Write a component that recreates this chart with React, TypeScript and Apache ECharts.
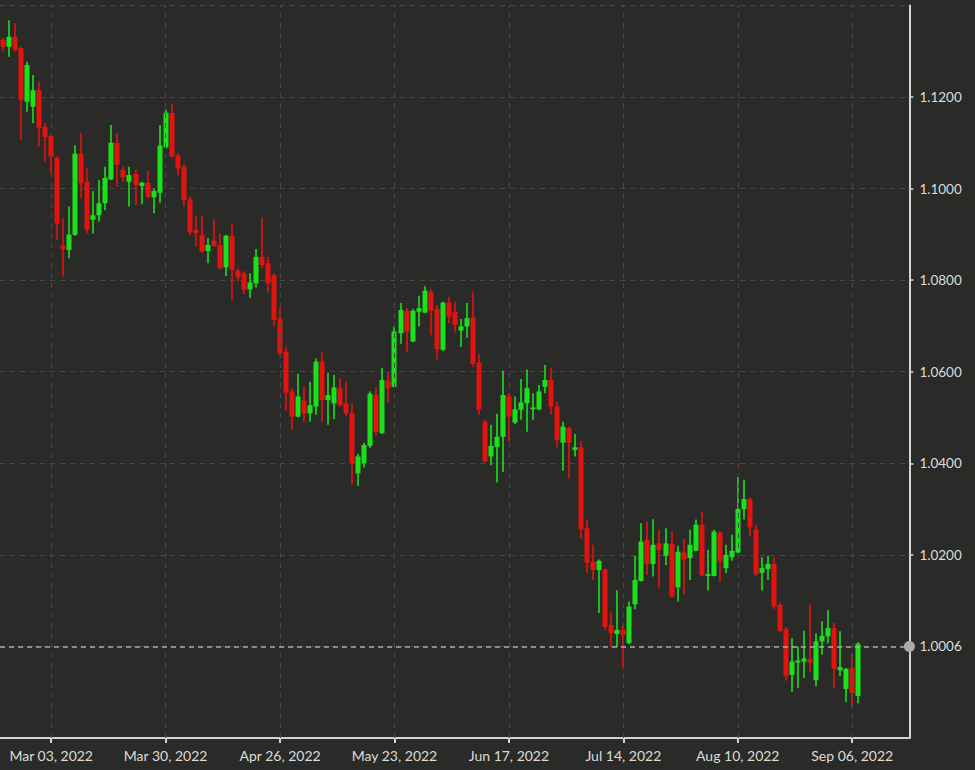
import React, { useEffect, useRef } from "react";
import * as echarts from "echarts";

// EUR/USD daily candles: [date, open, close, low, high]
const candles: [string, number, number, number, number][] = [
  ["2022-02-21", 1.1325, 1.131, 1.13, 1.133],
  ["2022-02-22", 1.131, 1.1332, 1.1288, 1.1368],
  ["2022-02-23", 1.1332, 1.1303, 1.13, 1.1361],
  ["2022-02-24", 1.1307, 1.1194, 1.1106, 1.131],
  ["2022-02-25", 1.119, 1.127, 1.1168, 1.1277],
  ["2022-02-28", 1.1179, 1.1215, 1.1143, 1.1248],
  ["2022-03-01", 1.1215, 1.1132, 1.1092, 1.1234],
  ["2022-03-02", 1.1135, 1.1113, 1.1059, 1.1144],
  ["2022-03-03", 1.1115, 1.107, 1.1033, 1.1117],
  ["2022-03-04", 1.1067, 1.0924, 1.0888, 1.107],
  ["2022-03-07", 1.0875, 1.0868, 1.0808, 1.0935],
  ["2022-03-08", 1.0866, 1.0899, 1.0848, 1.0961],
  ["2022-03-09", 1.0899, 1.1076, 1.0897, 1.1095],
  ["2022-03-10", 1.1076, 1.1012, 1.0979, 1.1122],
  ["2022-03-11", 1.1015, 1.091, 1.0902, 1.1044],
  ["2022-03-14", 1.0932, 1.0942, 1.0902, 1.0994],
  ["2022-03-15", 1.0942, 1.0968, 1.0928, 1.1019],
  ["2022-03-16", 1.0968, 1.1023, 1.0953, 1.1048],
  ["2022-03-17", 1.102, 1.11, 1.1019, 1.1139],
  ["2022-03-18", 1.11, 1.1052, 1.1004, 1.1121],
  ["2022-03-21", 1.1041, 1.1025, 1.1015, 1.1048],
  ["2022-03-22", 1.1015, 1.103, 1.0961, 1.1048],
  ["2022-03-23", 1.1032, 1.1008, 1.0964, 1.1041],
  ["2022-03-24", 1.1006, 1.1013, 1.0966, 1.1015],
  ["2022-03-25", 1.1013, 1.0982, 1.0979, 1.1039],
  ["2022-03-28", 1.0981, 1.0995, 1.0946, 1.1],
  ["2022-03-29", 1.0991, 1.1094, 1.0969, 1.1139],
  ["2022-03-30", 1.109, 1.1166, 1.1088, 1.1173],
  ["2022-03-31", 1.1165, 1.107, 1.1068, 1.1185],
  ["2022-04-01", 1.1073, 1.1044, 1.1028, 1.1077],
  ["2022-04-04", 1.1048, 1.0975, 1.0961, 1.1055],
  ["2022-04-05", 1.0977, 1.0906, 1.0899, 1.0982],
  ["2022-04-06", 1.091, 1.0903, 1.0873, 1.094],
  ["2022-04-07", 1.0899, 1.0862, 1.086, 1.094],
  ["2022-04-08", 1.0864, 1.0877, 1.0837, 1.0892],
  ["2022-04-11", 1.0886, 1.0875, 1.0873, 1.0933],
  ["2022-04-12", 1.0877, 1.0826, 1.0824, 1.0902],
  ["2022-04-13", 1.0828, 1.0897, 1.0809, 1.0899],
  ["2022-04-14", 1.0897, 1.0822, 1.0757, 1.0924],
  ["2022-04-15", 1.0821, 1.0806, 1.0797, 1.0826],
  ["2022-04-18", 1.0815, 1.0779, 1.077, 1.0819],
  ["2022-04-19", 1.078, 1.0795, 1.0761, 1.0815],
  ["2022-04-20", 1.0793, 1.0851, 1.0784, 1.0868],
  ["2022-04-21", 1.0851, 1.0833, 1.0826, 1.0937],
  ["2022-04-22", 1.0837, 1.0793, 1.0773, 1.0851],
  ["2022-04-25", 1.0811, 1.0713, 1.0699, 1.0814],
  ["2022-04-26", 1.0717, 1.064, 1.0634, 1.0739],
  ["2022-04-27", 1.0644, 1.0554, 1.0515, 1.0655],
  ["2022-04-28", 1.0557, 1.0502, 1.0473, 1.0564],
  ["2022-04-29", 1.0502, 1.0546, 1.05, 1.0595],
  ["2022-05-02", 1.0537, 1.0509, 1.0491, 1.0569],
  ["2022-05-03", 1.0509, 1.0527, 1.0491, 1.0578],
  ["2022-05-04", 1.0524, 1.0622, 1.0506, 1.0629],
  ["2022-05-05", 1.0622, 1.0538, 1.0491, 1.0642],
  ["2022-05-06", 1.0538, 1.0549, 1.0484, 1.0598],
  ["2022-05-09", 1.0531, 1.0566, 1.0496, 1.0593],
  ["2022-05-10", 1.0564, 1.0527, 1.0524, 1.0586],
  ["2022-05-11", 1.0531, 1.0509, 1.0502, 1.0578],
  ["2022-05-12", 1.0509, 1.04, 1.0353, 1.053],
  ["2022-05-13", 1.0378, 1.0415, 1.0351, 1.0421],
  ["2022-05-16", 1.04, 1.044, 1.0391, 1.0445],
  ["2022-05-17", 1.0438, 1.0552, 1.0433, 1.0557],
  ["2022-05-18", 1.0549, 1.0469, 1.046, 1.0566],
  ["2022-05-19", 1.0466, 1.0582, 1.0464, 1.0608],
  ["2022-05-20", 1.0581, 1.0564, 1.0533, 1.06],
  ["2022-05-23", 1.0567, 1.0688, 1.0566, 1.0699],
  ["2022-05-24", 1.0684, 1.0735, 1.0661, 1.075],
  ["2022-05-25", 1.0733, 1.0688, 1.0642, 1.0739],
  ["2022-05-26", 1.0666, 1.0733, 1.0665, 1.0737],
  ["2022-05-27", 1.0731, 1.0739, 1.0699, 1.0766],
  ["2022-05-30", 1.0729, 1.0777, 1.0728, 1.0787],
  ["2022-05-31", 1.0775, 1.0733, 1.068, 1.078],
  ["2022-06-01", 1.0737, 1.0649, 1.0627, 1.0746],
  ["2022-06-02", 1.0648, 1.0751, 1.0646, 1.0753],
  ["2022-06-03", 1.0751, 1.072, 1.0706, 1.0764],
  ["2022-06-06", 1.0731, 1.0702, 1.0686, 1.0753],
  ["2022-06-07", 1.069, 1.0699, 1.0654, 1.0715],
  ["2022-06-08", 1.0699, 1.0717, 1.0674, 1.075],
  ["2022-06-09", 1.0719, 1.0617, 1.0611, 1.0775],
  ["2022-06-10", 1.062, 1.0517, 1.0506, 1.064],
  ["2022-06-13", 1.0491, 1.0404, 1.04, 1.0495],
  ["2022-06-14", 1.0415, 1.0438, 1.0396, 1.0484],
  ["2022-06-15", 1.0436, 1.0458, 1.0358, 1.0508],
  ["2022-06-16", 1.0458, 1.0549, 1.0381, 1.0602],
  ["2022-06-17", 1.0547, 1.0502, 1.0447, 1.0553],
  ["2022-06-20", 1.0489, 1.0518, 1.0486, 1.0546],
  ["2022-06-21", 1.0517, 1.0533, 1.0495, 1.0584],
  ["2022-06-22", 1.0531, 1.0564, 1.0469, 1.0605],
  ["2022-06-23", 1.0518, 1.0522, 1.0495, 1.0553],
  ["2022-06-24", 1.0518, 1.0557, 1.0516, 1.0571],
  ["2022-06-27", 1.0567, 1.0582, 1.0553, 1.0615],
  ["2022-06-28", 1.0582, 1.0524, 1.0506, 1.0608],
  ["2022-06-29", 1.0524, 1.0451, 1.0435, 1.0535],
  ["2022-06-30", 1.0445, 1.048, 1.0384, 1.0491],
  ["2022-07-01", 1.0477, 1.0445, 1.0367, 1.048],
  ["2022-07-04", 1.0429, 1.0435, 1.0415, 1.0464],
  ["2022-07-05", 1.0435, 1.0255, 1.0236, 1.0447],
  ["2022-07-06", 1.0258, 1.0183, 1.0161, 1.0277],
  ["2022-07-07", 1.0185, 1.0167, 1.0145, 1.0222],
  ["2022-07-08", 1.0167, 1.0187, 1.0073, 1.019],
  ["2022-07-11", 1.0168, 1.0043, 1.0036, 1.017],
  ["2022-07-12", 1.0047, 1.0029, 1.0, 1.0076],
  ["2022-07-13", 1.0027, 1.0036, 0.9998, 1.0123],
  ["2022-07-14", 1.0036, 1.0025, 0.9952, 1.0047],
  ["2022-07-15", 1.0007, 1.0087, 1.0005, 1.0098],
  ["2022-07-18", 1.0092, 1.0145, 1.0081, 1.0198],
  ["2022-07-19", 1.0143, 1.0229, 1.0142, 1.0269],
  ["2022-07-20", 1.0233, 1.018, 1.0156, 1.0273],
  ["2022-07-21", 1.018, 1.0222, 1.0153, 1.0278],
  ["2022-07-22", 1.0225, 1.0211, 1.0129, 1.0255],
  ["2022-07-25", 1.0198, 1.0225, 1.0178, 1.0258],
  ["2022-07-26", 1.0224, 1.0109, 1.0107, 1.0251],
  ["2022-07-27", 1.0129, 1.0207, 1.0098, 1.022],
  ["2022-07-28", 1.0205, 1.019, 1.0114, 1.0235],
  ["2022-07-29", 1.0193, 1.0222, 1.0145, 1.0255],
  ["2022-08-01", 1.0209, 1.0266, 1.0208, 1.0277],
  ["2022-08-02", 1.0266, 1.0155, 1.0154, 1.0295],
  ["2022-08-03", 1.0154, 1.0158, 1.0122, 1.0211],
  ["2022-08-04", 1.0154, 1.0251, 1.0153, 1.0255],
  ["2022-08-05", 1.0249, 1.0185, 1.0141, 1.0251],
  ["2022-08-08", 1.0171, 1.02, 1.016, 1.0222],
  ["2022-08-09", 1.0195, 1.0209, 1.0187, 1.0244],
  ["2022-08-10", 1.0205, 1.03, 1.0204, 1.037],
  ["2022-08-11", 1.03, 1.0322, 1.0277, 1.0364],
  ["2022-08-12", 1.0322, 1.026, 1.024, 1.0326],
  ["2022-08-15", 1.0255, 1.0158, 1.0154, 1.0266],
  ["2022-08-16", 1.0161, 1.0171, 1.0122, 1.0195],
  ["2022-08-17", 1.0169, 1.018, 1.0145, 1.0198],
  ["2022-08-18", 1.018, 1.0087, 1.0081, 1.0195],
  ["2022-08-19", 1.0091, 1.0034, 1.0031, 1.0096],
  ["2022-08-22", 1.0038, 0.9935, 0.9925, 1.0043],
  ["2022-08-23", 0.9938, 0.9967, 0.9901, 1.0018],
  ["2022-08-24", 0.9965, 0.9969, 0.991, 1.0],
  ["2022-08-25", 0.9967, 0.9974, 0.9931, 1.0034],
  ["2022-08-26", 0.9972, 0.9965, 0.9945, 1.0093],
  ["2022-08-29", 0.9927, 1.0011, 0.9913, 1.0029],
  ["2022-08-30", 1.0011, 1.0023, 0.9982, 1.0055],
  ["2022-08-31", 1.0022, 1.004, 1.0007, 1.0079],
  ["2022-09-01", 1.004, 0.9951, 0.9909, 1.0051],
  ["2022-09-02", 0.9948, 0.9955, 0.9935, 1.0033],
  ["2022-09-05", 0.9907, 0.9951, 0.9878, 0.9953],
  ["2022-09-06", 0.9953, 0.9898, 0.9865, 0.9985],
  ["2022-09-07", 0.9892, 1.0006, 0.9876, 1.0009],
];

// Empty trading days shown to the right of the last candle
const futureDates = [
  "2022-09-08", "2022-09-09", "2022-09-12", "2022-09-13",
  "2022-09-14", "2022-09-15", "2022-09-16", "2022-09-19",
];

// Dates that carry an x-axis label, tick and vertical grid line
const tickDates = [
  "2022-03-03", "2022-03-30", "2022-04-26", "2022-05-23",
  "2022-06-17", "2022-07-14", "2022-08-10", "2022-09-06",
];

const yMin = 0.98;
const yMax = 1.14;
const yStep = 0.02;
const lastPrice = 1.0006;

const MONTHS = ["Jan", "Feb", "Mar", "Apr", "May", "Jun", "Jul", "Aug", "Sep", "Oct", "Nov", "Dec"];
const fmtDate = (iso: string) => {
  const [y, m, d] = iso.split("-");
  return `${MONTHS[Number(m) - 1]} ${d}, ${y}`;
};

const FONT = "Lato, 'Noto Sans', sans-serif";
const UP = "#1ae21a";
const DOWN = "#e3140f";
const AXIS = "#d4d4d4";
const TEXT = "#dcdcdc";
const GRID = "#484846";
const BG = "#2a2b28";

export default function App() {
  const ref = useRef<HTMLDivElement>(null);

  useEffect(() => {
    if (!ref.current) return;
    const chart = echarts.init(ref.current, undefined, { renderer: "svg" });
    const categories = [...candles.map((c) => c[0]), ...futureDates];
    const seriesData = candles.map((c, i) => [i, c[1], c[2], c[3], c[4]]);
    const isTick = (_i: number, v: string) => tickDates.includes(v);

    const renderCandle = (_params: any, api: any) => {
      const i = api.value(0);
      const o = api.value(1);
      const c = api.value(2);
      const l = api.value(3);
      const h = api.value(4);
      const po = api.coord([i, o]);
      const pc = api.coord([i, c]);
      const pl = api.coord([i, l]);
      const ph = api.coord([i, h]);
      const cx = Math.round(po[0]);
      const color = c >= o ? UP : DOWN;
      const top = Math.min(po[1], pc[1]);
      const bodyH = Math.max(Math.abs(po[1] - pc[1]), 1.5);
      return {
        type: "group",
        children: [
          {
            type: "line",
            shape: { x1: cx, y1: ph[1], x2: cx, y2: pl[1] },
            style: { stroke: color, lineWidth: 1.6 },
          },
          {
            type: "rect",
            shape: { x: cx - 2.5, y: top, width: 5, height: bodyH },
            style: { fill: color },
          },
        ],
      };
    };

    chart.setOption({
      animation: false,
      backgroundColor: BG,
      grid: { left: -3.38, top: 5.5, width: 912.8, height: 732.5, containLabel: false },
      xAxis: {
        type: "category",
        data: categories,
        boundaryGap: true,
        axisLine: { show: true, lineStyle: { color: AXIS, width: 2 } },
        axisTick: { show: true, alignWithLabel: true, interval: isTick, length: 5, lineStyle: { color: AXIS, width: 2 } },
        axisLabel: {
          interval: isTick,
          formatter: (v: string) => fmtDate(v),
          color: TEXT,
          fontFamily: FONT,
          fontSize: 14,
          margin: 10,
        },
        splitLine: { show: false },
      },
      yAxis: {
        type: "value",
        position: "right",
        min: yMin,
        max: yMax,
        interval: yStep,
        axisLine: { show: true, lineStyle: { color: AXIS, width: 2 } },
        axisTick: { show: true, length: 4, lineStyle: { color: AXIS, width: 1.5 } },
        axisLabel: {
          showMinLabel: false,
          showMaxLabel: false,
          formatter: (v: number) => (Math.abs(v - 1) < 1e-9 ? "" : v.toFixed(4)),
          color: TEXT,
          fontFamily: FONT,
          fontSize: 13.5,
          margin: 10,
        },
        splitLine: { show: true, lineStyle: { color: GRID, type: [5, 5], width: 1 } },
      },
      series: [
        {
          type: "line",
          data: [],
          silent: true,
          markLine: {
            silent: true,
            symbol: ["none", "none"],
            label: { show: false },
            lineStyle: { color: GRID, type: [5, 5], width: 1 },
            data: tickDates.map((d) => ({ xAxis: d })),
          },
        },
        {
          type: "custom",
          data: seriesData,
          encode: { x: 0, y: [1, 2, 3, 4] },
          clip: true,
          silent: true,
          renderItem: renderCandle,
        },
        {
          type: "line",
          data: [],
          silent: true,
          markLine: {
            silent: true,
            symbol: ["none", "circle"],
            symbolSize: 11,
            itemStyle: { color: "#8f8f8f" },
            lineStyle: { color: "#ababab", type: [5, 4], width: 1.5 },
            label: {
              show: true,
              position: "end",
              distance: 10,
              formatter: () => lastPrice.toFixed(4),
              color: TEXT,
              fontFamily: FONT,
              fontSize: 13.5,
            },
            data: [{ yAxis: lastPrice }],
          },
        },
      ],
    });

    return () => chart.dispose();
  }, []);

  return (
    <div
      ref={ref}
      style={{ position: "fixed", left: 0, top: 0, width: 975, height: 770, background: BG }}
    />
  );
}
